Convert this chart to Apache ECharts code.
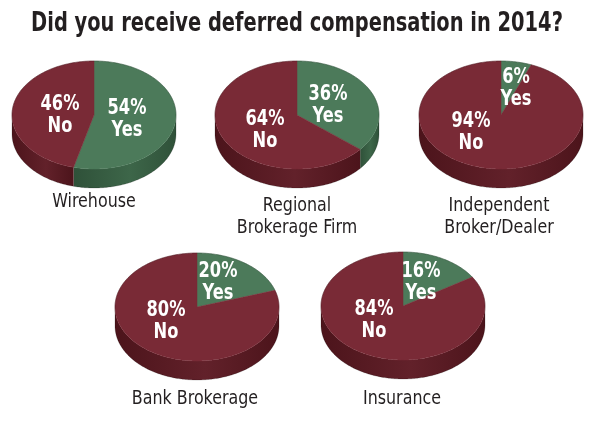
<!DOCTYPE html>
<html><head><meta charset="utf-8">
<script src="https://cdn.jsdelivr.net/npm/echarts@6/dist/echarts.min.js"></script>
<style>html,body{margin:0;padding:0;background:#fff}#c{width:595px;height:421px}</style>
</head><body><div id="c"></div>
<script>
// ---- data ----
const titleText = 'Did you receive deferred compensation in 2014?';
const categories = ['Wirehouse', 'Regional\nBrokerage Firm', 'Independent\nBroker/Dealer', 'Bank Brokerage', 'Insurance'];
const yesValues = [54, 36, 6, 20, 16];
const noValues = [46, 64, 94, 80, 84];
const sliceNames = ['Yes', 'No'];

// ---- layout (positions only) ----
const pieLayout = [
  {cx: 94,  cy: 115, yesLbl: [127, 120], noLbl: [60, 116],  nameAt: [94, 202]},
  {cx: 297, cy: 115, yesLbl: [328, 106], noLbl: [265, 131], nameAt: [297, 217]},
  {cx: 501, cy: 115, yesLbl: [516, 89],  noLbl: [471, 133], nameAt: [499, 217]},
  {cx: 197, cy: 307, yesLbl: [218, 283], noLbl: [166, 322], nameAt: [195, 399]},
  {cx: 403, cy: 306, yesLbl: [421, 283], noLbl: [374, 321], nameAt: [402, 399]}
];
const RX = 82, RY = 54, DEPTH = 19;
const topColors = {Yes: '#4c7a5a', No: '#792a36'};
const sideColors = {Yes: ['#2f5139', '#3d6649'], No: ['#4c141b', '#62212a']};
const FONT = '"DejaVu Sans Condensed", "Liberation Sans Narrow", sans-serif';

function pt(cx, cy, deg, dy) {
  const r = deg * Math.PI / 180;
  return [cx + RX * Math.sin(r), cy - RY * Math.cos(r) + (dy || 0)];
}
function arc(cx, cy, a, b, dy) {
  const pts = [];
  const n = Math.max(2, Math.ceil(Math.abs(b - a)));
  for (let i = 0; i <= n; i++) pts.push(pt(cx, cy, a + (b - a) * i / n, dy));
  return pts;
}

function renderItem(params, api) {
  const i = params.dataIndex;
  const L = pieLayout[i];
  const vals = [api.value(0), api.value(1)];
  const total = vals[0] + vals[1];
  const children = [];
  let start = 0;
  const slices = vals.map((v, k) => {
    const s = {name: sliceNames[k], a: start, b: start + v / total * 360, v: v};
    start = s.b;
    return s;
  });
  // side walls (front half: 90..270)
  slices.forEach(s => {
    const a = Math.max(s.a, 90), b = Math.min(s.b, 270);
    if (b <= a) return;
    const top = arc(L.cx, L.cy, a, b, 0);
    const bot = arc(L.cx, L.cy, b, a, DEPTH);
    const c = sideColors[s.name];
    children.push({
      type: 'polygon',
      shape: {points: top.concat(bot)},
      style: {
        fill: new echarts.graphic.LinearGradient(0, 0, 1, 0, [
          {offset: 0, color: c[0]}, {offset: 0.55, color: c[1]}, {offset: 1, color: c[0]}
        ], false),
        stroke: null
      }
    });
  });
  // top faces
  slices.forEach(s => {
    const pts = [[L.cx, L.cy]].concat(arc(L.cx, L.cy, s.a, s.b, 0));
    children.push({
      type: 'polygon',
      shape: {points: pts},
      style: {fill: topColors[s.name], stroke: topColors[s.name], lineWidth: 0.5}
    });
  });
  // silhouette outline
  const sil = arc(L.cx, L.cy, -90, 90, 0).concat(arc(L.cx, L.cy, 90, 270, DEPTH));
  children.push({
    type: 'polygon',
    shape: {points: sil},
    style: {fill: null, stroke: 'rgba(0,0,0,0.18)', lineWidth: 1}
  });
  // slice labels
  slices.forEach(s => {
    const p = s.name === 'Yes' ? L.yesLbl : L.noLbl;
    children.push({
      type: 'text',
      x: p[0], y: p[1],
      scaleX: 0.86,
      style: {
        text: s.v + '%\n' + s.name,
        fill: '#ffffff',
        fontSize: 21, fontWeight: 'bold', fontFamily: FONT,
        lineHeight: 22,
        align: 'center', verticalAlign: 'middle'
      }
    });
  });
  // category name
  children.push({
    type: 'text',
    x: L.nameAt[0], y: L.nameAt[1],
    scaleX: 0.93,
    style: {
      text: categories[i],
      fill: '#231f20',
      fontSize: 19, fontWeight: 'normal', fontFamily: FONT,
      lineHeight: 22,
      align: 'center', verticalAlign: 'middle'
    }
  });
  return {type: 'group', children: children};
}

const chart = echarts.init(document.getElementById('c'), null, {renderer: 'canvas'});
chart.setOption({
  backgroundColor: '#ffffff',
  animation: false,
  graphic: [{
    type: 'text',
    x: 297, y: 24,
    scaleX: 0.8,
    style: {
      text: titleText,
      fill: '#231f20',
      fontSize: 27, fontWeight: 'bold', fontFamily: FONT,
      align: 'center', verticalAlign: 'middle'
    }
  }],
  series: [{
    type: 'custom',
    coordinateSystem: 'none',
    renderItem: renderItem,
    data: yesValues.map((y, k) => [y, noValues[k]])
  }]
});
</script>
</body></html>
